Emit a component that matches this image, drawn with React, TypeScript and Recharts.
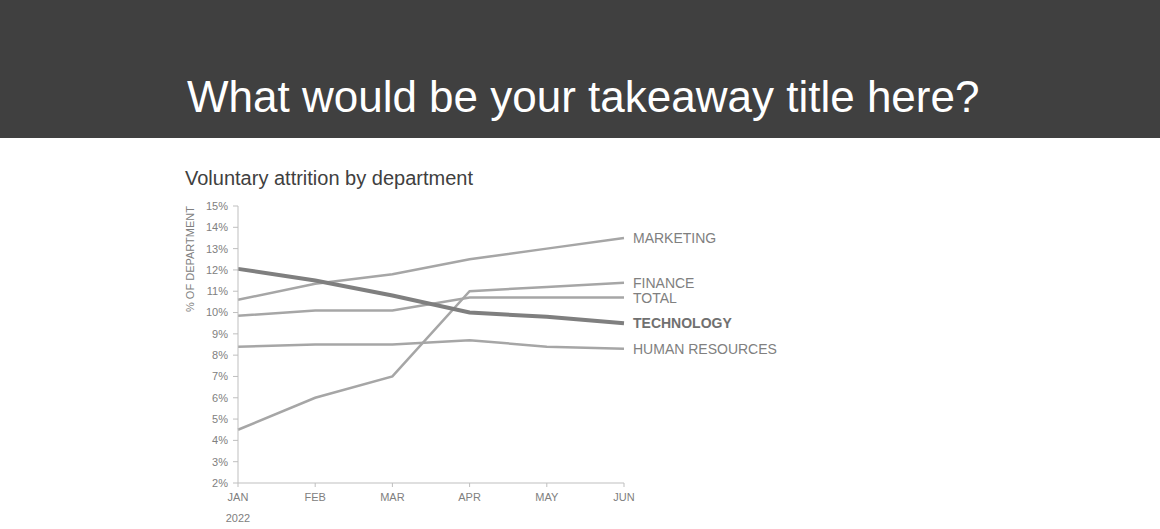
import { LabelList, Line, LineChart, XAxis, YAxis } from "recharts";

const months = ["JAN", "FEB", "MAR", "APR", "MAY", "JUN"];
const yTicks = [2, 3, 4, 5, 6, 7, 8, 9, 10, 11, 12, 13, 14, 15];

const marketing = [10.6, 11.35, 11.8, 12.5, 13.0, 13.5];
const finance = [4.5, 6.0, 7.0, 11.0, 11.2, 11.4];
const total = [9.85, 10.1, 10.1, 10.7, 10.7, 10.7];
const technology = [12.05, 11.5, 10.8, 10.0, 9.8, 9.5];
const humanResources = [8.4, 8.5, 8.5, 8.7, 8.4, 8.3];

const FONT = '"Liberation Sans", Arial, sans-serif';
const LINE_GREY = "#a6a6a6";
const DARK_LINE = "#7f7f7f";
const AXIS_GREY = "#bfbfbf";
const TICK_TEXT = "#808080";

const data = months.map((month, i) => ({
  month,
  marketing: marketing[i],
  finance: finance[i],
  total: total[i],
  technology: technology[i],
  humanResources: humanResources[i],
}));

type SeriesDef = {
  key: string;
  name: string;
  color: string;
  width: number;
  bold?: boolean;
};

const series: SeriesDef[] = [
  { key: "marketing", name: "MARKETING", color: LINE_GREY, width: 2.5 },
  { key: "finance", name: "FINANCE", color: LINE_GREY, width: 2.5 },
  { key: "total", name: "TOTAL", color: LINE_GREY, width: 2.5 },
  { key: "humanResources", name: "HUMAN RESOURCES", color: LINE_GREY, width: 2.5 },
  { key: "technology", name: "TECHNOLOGY", color: DARK_LINE, width: 4, bold: true },
];

function endLabel(name: string, bold?: boolean) {
  return (props: any) => {
    const { x, y, index } = props;
    if (index !== months.length - 1) {
      return null;
    }
    return (
      <text
        x={Number(x) + 9}
        y={Number(y)}
        dominantBaseline="central"
        fontFamily={FONT}
        fontSize={14}
        fontWeight={bold ? 700 : 400}
        fill={bold ? "#707070" : "#808080"}
      >
        {name}
      </text>
    );
  };
}

export default function App() {
  return (
    <div style={{ position: "absolute", left: 0, top: 0, width: 1160, height: 529, background: "#fff", fontFamily: FONT }}>
      <div style={{ position: "absolute", left: 0, top: 0, width: 1160, height: 138, background: "#404040" }} />
      <div style={{ position: "absolute", left: 187, top: 75, fontSize: 44, lineHeight: "44px", color: "#ffffff", whiteSpace: "nowrap" }}>
        What would be your takeaway title here?
      </div>
      <div style={{ position: "absolute", left: 185, top: 167.5, fontSize: 20, lineHeight: "20px", color: "#404040", whiteSpace: "nowrap" }}>
        Voluntary attrition by department
      </div>
      <div
        style={{
          position: "absolute",
          left: 190 - 60,
          top: 259 - 7,
          width: 120,
          height: 14,
          lineHeight: "14px",
          fontSize: 11,
          color: TICK_TEXT,
          textAlign: "center",
          transform: "rotate(-90deg)",
          whiteSpace: "nowrap",
        }}
      >
        % OF DEPARTMENT
      </div>
      <div style={{ position: "absolute", left: 238 - 20, top: 513.4, width: 40, fontSize: 11, lineHeight: "11px", color: TICK_TEXT, textAlign: "center" }}>
        2022
      </div>
      <div style={{ position: "absolute", left: 0, top: 0 }}>
        <LineChart width={1160} height={529} data={data} margin={{ top: 206, right: 536, bottom: 16, left: 198 }}>
          <XAxis
            dataKey="month"
            height={30}
            axisLine={{ stroke: AXIS_GREY }}
            tickLine={{ stroke: AXIS_GREY }}
            tickSize={4}
            tickMargin={6}
            interval={0}
            padding={{ left: 0, right: 0 }}
            tick={{ fill: TICK_TEXT, fontSize: 11, fontFamily: FONT }}
          />
          <YAxis
            width={40}
            domain={[2, 15]}
            ticks={yTicks}
            interval={0}
            tickFormatter={(v: number) => `${v}%`}
            axisLine={{ stroke: AXIS_GREY }}
            tickLine={{ stroke: AXIS_GREY }}
            tickSize={5}
            tickMargin={5}
            tick={{ fill: TICK_TEXT, fontSize: 11, fontFamily: FONT }}
          />
          {series.map((s) => (
            <Line
              key={s.key}
              type="linear"
              dataKey={s.key}
              stroke={s.color}
              strokeWidth={s.width}
              dot={false}
              activeDot={false}
              isAnimationActive={false}
            >
              <LabelList dataKey={s.key} content={endLabel(s.name, s.bold)} />
            </Line>
          ))}
        </LineChart>
      </div>
    </div>
  );
}
